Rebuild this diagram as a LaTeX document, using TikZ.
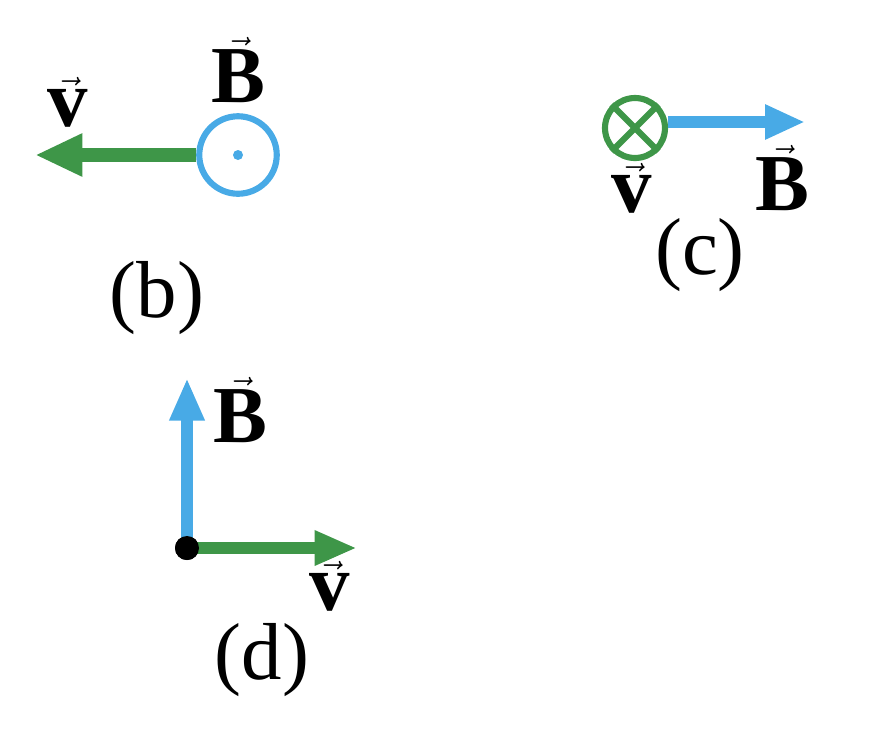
\documentclass[tikz,border=0pt]{standalone}
\usepackage{fontspec}
\setmainfont{Liberation Serif}
\usetikzlibrary{arrows.meta}
\definecolor{gr}{RGB}{62,150,72}
\definecolor{bl}{RGB}{72,170,230}
\newcommand{\vb}[1]{$\vec{\textbf{#1}}$}
\begin{document}
\begin{tikzpicture}[x=0.02cm,y=-0.02cm,
  lab/.style={font=\fontsize{46}{50}\selectfont,inner sep=0},
  caption/.style={font=\fontsize{46}{50}\selectfont,inner sep=0},
  arr/.style={line width=8pt,-{Triangle[length=0.95cm,width=0.8cm]}}]
\useasboundingbox (0,0) rectangle (882,748);
% (b)
\node[circle,draw=bl,line width=3.5pt,minimum size=1.55cm,inner sep=0] (cb) at (238,155) {};
\fill[bl] (cb.center) circle (5);
\coordinate (tb) at (35,155);
\draw[arr,gr] (cb.west) -- (tb);
\node[lab] (Bb) at (238,70) {\vb{B}};
\node[lab] (vb) at (68,102) {\vb{v}};
\node[caption] (lb) at (157,298) {(b)};
% (c)
\node[circle,draw=gr,line width=3.5pt,minimum size=1.2cm,inner sep=0] (cc) at (635,128) {};
\draw[gr,line width=3.5pt] (cc.north east) -- (cc.south west) (cc.north west) -- (cc.south east);
\coordinate (tc) at (805,122);
\draw[line width=7pt,bl,-{Triangle[length=0.8cm,width=0.65cm]}] (cc.east|-tc) -- (tc);
\node[lab] (vc) at (632,188) {\vb{v}};
\node[lab] (Bc) at (782,178) {\vb{B}};
\node[caption] (lc) at (700,255) {(c)};
% (d)
\node[circle,fill=black,minimum size=0.48cm,inner sep=0] (o) at (187,548) {};
\coordinate (tB) at (187,378);
\coordinate (tv) at (357,548);
\draw[line width=7pt,bl,-{Triangle[length=0.85cm,width=0.65cm]}] (o.center) -- (tB);
\draw[line width=7pt,gr,-{Triangle[length=0.85cm,width=0.65cm]}] (o.center) -- (tv);
\node[circle,fill=black,minimum size=0.48cm,inner sep=0] at (o) {};
\node[lab] (Bd) at (240,410) {\vb{B}};
\node[lab] (vd) at (330,586) {\vb{v}};
\node[caption] (ld) at (262,660) {(d)};
\end{tikzpicture}
\end{document}
